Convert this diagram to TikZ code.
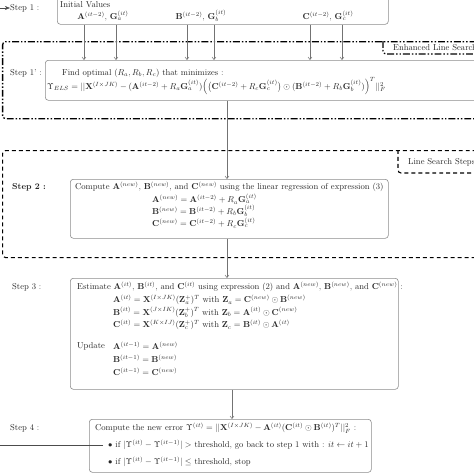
\documentclass[tikz,border=0pt]{standalone}
\usepackage{amsmath,amssymb}
\usetikzlibrary{arrows.meta}
\newcommand\pxu{1.16}
\begin{document}
\begin{tikzpicture}[x=\pxu pt,y=-\pxu pt,
  font=\fontsize{10}{12}\selectfont,
  txt/.style={anchor=west,inner sep=0pt,text=black!85},
  stepbox/.style={draw=black!45,line width=0.7pt,rounded corners=3.5pt,anchor=north west,inner sep=0pt},
  arr/.style={draw=black!55,line width=0.6pt,-{Straight Barb[length=3pt,width=4.6pt]}},
  dashdotbox/.style={draw=black,line width=1.5pt,dash pattern=on 8pt off 2.3pt on 1.7pt off 2.3pt on 1.7pt off 2.3pt},
  dashbox/.style={draw=black,line width=1.3pt,dash pattern=on 4.6pt off 3.5pt}]
\useasboundingbox (0,0) rectangle (474,474);
\clip (0,0) rectangle (474,474);

% region boxes
\node[dashdotbox,anchor=north west,minimum width=\pxu*540pt,minimum height=\pxu*77pt,inner sep=0pt,rounded corners=3.5pt] (els) at (2,41) {};
\draw[dashdotbox,rounded corners=3.5pt] (383,41) -- (383,54) -- (480,54);
\node[txt] (elsl) at (393,47.5) {Enhanced Line Search};

\node[dashbox,anchor=north west,minimum width=\pxu*540pt,minimum height=\pxu*107pt,inner sep=0pt,rounded corners=3.5pt] (lss) at (2,150) {};
\draw[dashbox,rounded corners=3.5pt] (398,150) -- (398,173) -- (480,173);
\node[txt] (lssl) at (408,162) {Line Search Steps};

% step boxes
\node[stepbox,minimum width=\pxu*331pt,minimum height=\pxu*30pt] (s1) at (57,-6) {};
\node[stepbox,minimum width=\pxu*470pt,minimum height=\pxu*40pt] (s1p) at (45,60) {};
\node[stepbox,minimum width=\pxu*318pt,minimum height=\pxu*59pt] (s2) at (70,179) {};
\node[stepbox,minimum width=\pxu*328pt,minimum height=\pxu*111pt] (s3) at (70,278) {};
\node[stepbox,minimum width=\pxu*282pt,minimum height=\pxu*53pt] (s4) at (89,419) {};

% labels
\node[txt] (l1) at (10,8) {Step 1 :};
\node[txt] (l1p) at (10,73) {Step 1' :};
\node[txt] (l2) at (12,187) {\bfseries Step 2 :};
\node[txt] (l3) at (12,287) {Step 3 :};
\node[txt] (l4) at (10,428) {Step 4 :};

% step 1 text
\node[txt] at (60,5) {Initial Values};
\node[txt,anchor=center] at (103,16) {$\mathbf{A}^{(it-2)}$, $\mathbf{G}_a^{(it)}$};
\node[txt,anchor=center] at (201,16) {$\mathbf{B}^{(it-2)}$, $\mathbf{G}_b^{(it)}$};
\node[txt,anchor=center] at (328,16) {$\mathbf{C}^{(it-2)}$, $\mathbf{G}_c^{(it)}$};

% step 1' text
\node[txt] at (62,73) {Find optimal $(R_a,R_b,R_c)$ that minimizes :};
\node[txt] at (47,86) {$\Upsilon_{ELS}=||\mathbf{X}^{(I\times JK)}-(\mathbf{A}^{(it-2)}+R_a\mathbf{G}_a^{(it)})\Big(\big(\mathbf{C}^{(it-2)}+R_c\mathbf{G}_c^{(it)}\big)\odot(\mathbf{B}^{(it-2)}+R_b\mathbf{G}_b^{(it)})\Big)^T||_F^2$};

% step 2 text
\node[txt] at (75,187) {Compute $\mathbf{A}^{(new)}$, $\mathbf{B}^{(new)}$, and $\mathbf{C}^{(new)}$ using the linear regression of expression (3)};
\node[txt] at (152,199) {$\mathbf{A}^{(new)}=\mathbf{A}^{(it-2)}+R_a\mathbf{G}_a^{(it)}$};
\node[txt] at (152,211) {$\mathbf{B}^{(new)}=\mathbf{B}^{(it-2)}+R_b\mathbf{G}_b^{(it)}$};
\node[txt] at (152,223) {$\mathbf{C}^{(new)}=\mathbf{C}^{(it-2)}+R_c\mathbf{G}_c^{(it)}$};

% step 3 text
\node[txt] at (77,287) {Estimate $\mathbf{A}^{(it)}$, $\mathbf{B}^{(it)}$, and $\mathbf{C}^{(it)}$ using expression (2) and $\mathbf{A}^{(new)}$, $\mathbf{B}^{(new)}$, and $\mathbf{C}^{(new)}$ :};
\node[txt] at (113,300) {$\mathbf{A}^{(it)}=\mathbf{X}^{(I\times JK)}(\mathbf{Z}_a^{+})^T$ with $\mathbf{Z}_a=\mathbf{C}^{(new)}\odot\mathbf{B}^{(new)}$};
\node[txt] at (113,312.5) {$\mathbf{B}^{(it)}=\mathbf{X}^{(J\times IK)}(\mathbf{Z}_b^{+})^T$ with $\mathbf{Z}_b=\mathbf{A}^{(it)}\odot\mathbf{C}^{(new)}$};
\node[txt] at (113,325) {$\mathbf{C}^{(it)}=\mathbf{X}^{(K\times IJ)}(\mathbf{Z}_c^{+})^T$ with $\mathbf{Z}_c=\mathbf{B}^{(it)}\odot\mathbf{A}^{(it)}$};
\node[txt] at (77,346) {Update};
\node[txt] at (113,346) {$\mathbf{A}^{(it-1)}=\mathbf{A}^{(new)}$};
\node[txt] at (113,359) {$\mathbf{B}^{(it-1)}=\mathbf{B}^{(new)}$};
\node[txt] at (113,372) {$\mathbf{C}^{(it-1)}=\mathbf{C}^{(new)}$};

% step 4 text
\node[txt] at (95,428) {Compute the new error $\Upsilon^{(it)}=||\mathbf{X}^{(I\times JK)}-\mathbf{A}^{(it)}(\mathbf{C}^{(it)}\odot\mathbf{B}^{(it)})^T||_F^2$ :};
\node[txt] (b1) at (108,445) {$\bullet$ if $|\Upsilon^{(it)}-\Upsilon^{(it-1)}|>$ threshold, go back to step 1 with : $it\leftarrow it+1$};
\node[txt] (b2) at (108,462) {$\bullet$ if $|\Upsilon^{(it)}-\Upsilon^{(it-1)}|\leq$ threshold, stop};

% connector columns
\coordinate (xa) at (84,0);
\coordinate (xga) at (116,0);
\coordinate (xb) at (187,0);
\coordinate (xgb) at (214,0);
\coordinate (xc) at (310,0);
\coordinate (xgc) at (342,0);
\coordinate (xm) at (227,0);
\coordinate (xn) at (232,0);

\foreach \c in {xa,xga,xb,xgb,xc,xgc}
  \draw[arr] (s1.south -| \c) -- (s1p.north -| \c);
\draw[arr] (s1p.south -| xm) -- (s2.north -| xm);
\draw[arr] (s2.south -| xm) -- (s3.north -| xm);
\draw[arr] (s3.south -| xn) -- (s4.north -| xn);

% feedback loop
\coordinate (fb) at (103,445);
\draw[draw=black!70,line width=0.6pt,-{Stealth[length=6pt,width=4.6pt]}] (fb) -- (-20,445) |- (l1.west);
\end{tikzpicture}
\end{document}
